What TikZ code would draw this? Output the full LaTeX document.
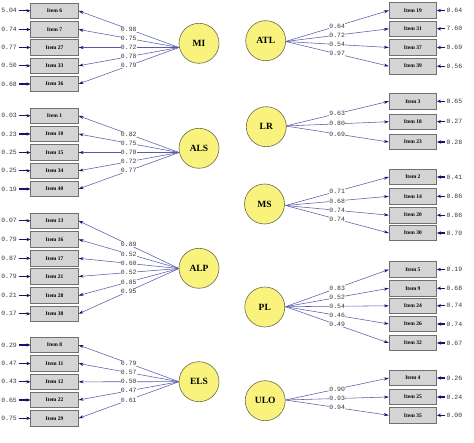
\documentclass[tikz,border=0pt]{standalone}
\usepackage{fontspec}
\setmainfont{Liberation Serif}
\newfontfamily\monof{Liberation Mono}
\usetikzlibrary{arrows.meta}
\definecolor{boxfill}{HTML}{D4D4D4}
\definecolor{boxdraw}{HTML}{707070}
\definecolor{circfill}{HTML}{F9F27C}
\definecolor{circdraw}{HTML}{6A6A50}
\definecolor{linecol}{HTML}{5A5AAA}
\definecolor{navy}{HTML}{14146E}
\definecolor{numcol}{HTML}{383838}
\tikzset{
  itembox/.style={draw=boxdraw, fill=boxfill, line width=0.6pt, minimum width=47.5pt, minimum height=15.5pt, inner sep=0pt, font=\fontsize{5.5}{6}\selectfont\bfseries},
  latent/.style={circle, draw=circdraw, fill=circfill, line width=0.6pt, minimum size=40pt, inner sep=0pt, font=\fontsize{9.5}{10}\selectfont\bfseries},
  load/.style={draw=linecol, line width=0.55pt, -{Stealth[length=5pt,width=3pt,color=navy]}},
  loadlab/.style={fill=white, inner sep=0.4pt, text=numcol, font=\fontsize{6.5}{7}\monof},
  resid/.style={draw=navy, line width=1.3pt, -{Stealth[length=4pt,width=3.4pt]}, shorten <=1.2pt},
  restxt/.style={inner sep=0.4pt, text=numcol, font=\fontsize{6.5}{7}\monof}
}
\newcommand\LeftGroup[5]{%
  \coordinate (#1-c) at (179,#4);
  \foreach \yy/\itm/\rr/\ll [count=\i] in {#5} {
    \node[itembox] (#1-\i) at (54.5,\yy) {Item \itm};
    \node[restxt, anchor=east] (#1-r\i) at (17.5,\yy) {\rr};
    \draw[resid] (#1-r\i.east) -- (#1-\i.west);
    \draw[load] (#1-c) -- (#1-\i.east);
  }
  \foreach \yy/\itm/\rr/\ll [count=\i] in {#5} {
    \path (#1-c) -- (#1-\i.east) node[midway, loadlab] {\ll};
  }
  \node[latent] (#1) at (199,#3) {#2};
}
\newcommand\RightGroup[6]{%
  \coordinate (#1-c) at (285.5,#4);
  \foreach \yy/\itm/\rr/\ll [count=\i] in {#5} {
    \node[itembox] (#1-\i) at (412.9,\yy) {Item \itm};
    \node[restxt, anchor=west] (#1-r\i) at (446,\yy) {\rr};
    \draw[resid] (#1-r\i.west) -- (#1-\i.east);
    \draw[load] (#1-c) -- (#1-\i.west);
  }
  \foreach \yy/\itm/\rr/\ll [count=\i] in {#5} {
    \path (#1-c) -- (#1-\i.west) node[midway, loadlab] {\ll};
  }
  \node[latent] (#1) at (#6,#3) {#2};
}
\begin{document}
\begin{tikzpicture}[x=1pt,y=-1pt]
\useasboundingbox (0,0) rectangle (474,443);
\LeftGroup{MI}{MI}{43.3}{47.5}{10.8/6/5.04/0.98, 29.5/7/0.74/0.75, 47.5/27/0.77/0.72, 65.8/33/0.50/0.78, 84/36/0.68/0.79}
\LeftGroup{ALS}{ALS}{148.3}{152.5}{115.8/1/0.03/0.82, 134/10/0.23/0.75, 152.5/15/0.25/0.70, 170.8/34/0.25/0.72, 189/40/0.19/0.77}
\LeftGroup{ALP}{ALP}{268.3}{268.5}{220.8/13/0.07/0.89, 239.5/16/0.79/0.52, 258.3/17/0.87/0.60, 276.5/21/0.79/0.52, 295.5/28/0.21/0.85, 313.8/38/0.17/0.95}
\LeftGroup{ELS}{ELS}{381.7}{381.7}{345/8/0.29/0.79, 363.5/11/0.47/0.57, 381.8/12/0.43/0.50, 400/22/0.65/0.47, 418.3/29/0.75/0.61}
\RightGroup{ATL}{ATL}{40.7}{41.5}{10.5/19/0.64/0.64, 28.8/31/7.60/0.72, 47.5/37/0.69/0.54, 66.2/39/0.56/9.97}{265.7}
\RightGroup{LR}{LR}{126.7}{126}{101.3/3/0.65/9.63, 121.7/18/0.27/0.80, 142/23/0.28/0.69}{266.3}
\RightGroup{MS}{MS}{204}{205.5}{177/2/0.41/0.71, 196.3/14/0.86/0.68, 215.2/20/0.86/0.74, 233/30/0.70/0.74}{264.5}
\RightGroup{PL}{PL}{307}{306.7}{269.5/5/0.19/0.83, 288.3/9/0.68/0.52, 305.8/24/0.74/0.54, 324/26/0.74/0.46, 343/32/0.67/0.49}{264.8}
\RightGroup{ULO}{ULO}{400.7}{400}{378/4/0.26/0.90, 397/25/0.24/0.93, 415.3/35/0.00/0.94}{265.2}
\end{tikzpicture}
\end{document}
